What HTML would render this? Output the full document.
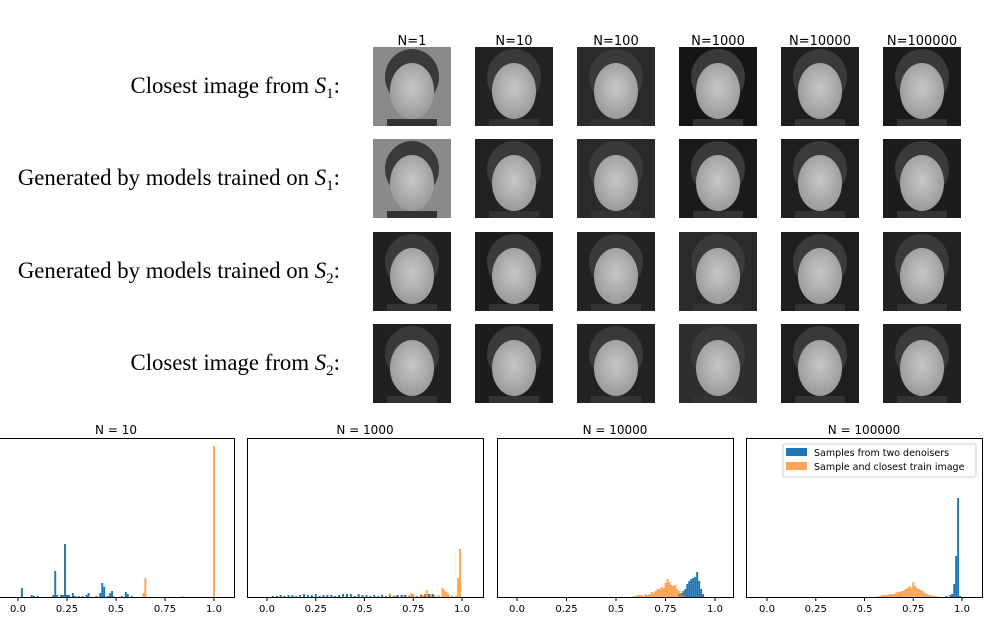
<!DOCTYPE html>
<html><head><meta charset="utf-8"><style>
body{margin:0;background:#fff;width:995px;height:637px;overflow:hidden;font-family:"DejaVu Sans","Liberation Sans",sans-serif}
svg{display:block}
.lbl{font-family:"Liberation Serif",serif;font-size:22.8px}
</style></head><body>
<svg id="fig" width="995" height="637">
<defs>
<radialGradient id="fg" cx="50%" cy="45%" r="55%"><stop offset="0" stop-color="#fff" stop-opacity="0.9"/><stop offset="1" stop-color="#fff" stop-opacity="0"/></radialGradient>
</defs>
<g id="faces"></g>
<g id="labels"></g>
<g id="hists"></g>
</svg>
<script>
const NS='http://www.w3.org/2000/svg';
function mk(tag,attrs,parent){const e=document.createElementNS(NS,tag);for(const k in attrs)e.setAttribute(k,attrs[k]);parent.appendChild(e);return e;}
const colTitles=['N=1','N=10','N=100','N=1000','N=10000','N=100000'];
const rowLabels=['Closest image from ','Generated by models trained on ','Generated by models trained on ','Closest image from '];
const rowSubs=['1','1','2','2'];
const tileBg=[['#8a8a8a','#222','#2a2a2a','#151515','#1e1e1e','#1a1a1a'],['#8a8a8a','#222','#2a2a2a','#1a1a1a','#1e1e1e','#1c1c1c'],['#202020','#1c1c1c','#222','#2a2a2a','#1e1e1e','#222'],['#202020','#1c1c1c','#222','#2e2e2e','#1e1e1e','#202020']];
const fg=document.getElementById('faces');
const rowsY=[47,139,232,324];
for(let r=0;r<4;r++)for(let c=0;c<6;c++){
 const x=373+c*102,y=rowsY[r];
 const g=mk('g',{},fg);
 
 
 mk('rect',{x:x,y:y,width:78,height:79,fill:tileBg[r][c]},g);
 mk('ellipse',{cx:x+39,cy:y+30,rx:27,ry:28,fill:'#3a3a3a'},g);
 mk('ellipse',{cx:x+39,cy:y+44,rx:22,ry:28,fill:'#9a9a9a'},g);
 mk('ellipse',{cx:x+39,cy:y+44,rx:22,ry:28,fill:'url(#fg)',opacity:0.5},g);
 mk('rect',{x:x+14,y:y+72,width:50,height:7,fill:'#333'},g);
}
const lg=document.getElementById('labels');
colTitles.forEach((t,i)=>{const e=mk('text',{x:412+i*102,y:45,'text-anchor':'middle','font-size':13},lg);e.textContent=t;

});
rowLabels.forEach((t,i)=>{const e=mk('text',{x:340,y:rowsY[i]+46,'text-anchor':'end',class:'lbl'},lg);


e.appendChild(document.createTextNode(t));
const s=mk('tspan',{'font-style':'italic'},e);s.textContent='S';
const sb=mk('tspan',{'font-size':15,dy:5},e);sb.textContent=rowSubs[i];
const co=mk('tspan',{dy:-5},e);co.textContent=':';});

const titles=['N = 10','N = 1000','N = 10000','N = 100000'];
const ticks=[0,0.25,0.5,0.75,1.0];
const tickLabels=['0.0','0.25','0.5','0.75','1.0'];
const blueX1=[0.02,0.07,0.08,0.10,0.18,0.19,0.20,0.22,0.23,0.24,0.25,0.26,0.28,0.29,0.31,0.33,0.35,0.36,0.40,0.42,0.43,0.44,0.46,0.47,0.48,0.53,0.55,0.56,0.58];
const blueY1=[9,2,1,1,2,26,2,2,2,53,2,2,4,1,1,1,2,4,1,4,14,10,1,4,6,1,5,3,1];
const orangeX1=[0.49,0.64,0.65,0.84,1.0];
const orangeY1=[1,4,19,1,151];
const blueX2=[0.03,0.05,0.07,0.09,0.11,0.13,0.15,0.17,0.19,0.21,0.23,0.25,0.27,0.29,0.31,0.33,0.35,0.37,0.39,0.41,0.43,0.45,0.47,0.49,0.51,0.53,0.55,0.57,0.59,0.61,0.63,0.65,0.67,0.69,0.71,0.73,0.75,0.77,0.79,0.81,0.83,0.85];
const blueY2=[1,1,2,1,2,2,1,2,3,2,2,3,1,2,2,2,1,2,3,3,3,1,3,2,2,1,2,1,2,1,2,1,2,2,2,1,1,1,2,3,3,3];
const orangeX2=[0.63,0.66,0.70,0.73,0.74,0.75,0.77,0.79,0.80,0.81,0.82,0.84,0.86,0.88,0.90,0.91,0.92,0.93,0.95,0.97,0.98,0.99];
const orangeY2=[4,2,2,2,4,3,1,3,2,3,7,3,2,2,9,7,5,3,2,1,19,48];
const blueX3=[0.82,0.83,0.84,0.85,0.86,0.87,0.88,0.89,0.90,0.91,0.92,0.93,0.94];
const blueY3=[3,4,6,8,13,16,18,19,20,25,16,8,3];
const orangeX3=[0.59,0.60,0.61,0.62,0.63,0.64,0.65,0.66,0.67,0.68,0.69,0.70,0.71,0.72,0.73,0.74,0.75,0.76,0.77,0.78,0.79,0.80,0.81,0.82,0.83,0.84,0.85];
const orangeY3=[1,1,2,2,2,1,3,2,3,5,4,6,8,8,10,9,14,18,15,12,11,12,8,6,4,2,1];
const blueX4=[0.92,0.94,0.95,0.96,0.97,0.98,0.99];
const blueY4=[1,2,3,13,41,99,1];
const orangeX4=[0.57,0.58,0.59,0.60,0.61,0.62,0.63,0.64,0.65,0.66,0.67,0.68,0.69,0.70,0.71,0.72,0.73,0.74,0.75,0.76,0.77,0.78,0.79,0.80,0.81,0.82,0.83,0.84,0.85,0.86,0.87];
const orangeY4=[1,1,2,2,2,2,3,3,3,4,5,5,6,6,8,9,11,9,15,11,9,8,7,6,4,3,2,2,1,1,1];
const panels=[[blueX1,blueY1,orangeX1,orangeY1],[blueX2,blueY2,orangeX2,orangeY2],[blueX3,blueY3,orangeX3,orangeY3],[blueX4,blueY4,orangeX4,orangeY4]];
const axLeft=[-2,247,497,746],axW=[236,236,236,236],x0px=[18,267,517,767],x1px=[214,462,715,962];
const axTop=438,axBot=597,ymax=159;
const hg=document.getElementById('hists');
panels.forEach((p,i)=>{
 const g=mk('g',{},hg);
 
 
 const sx=v=>x0px[i]+v*(x1px[i]-x0px[i]);
 const sy=v=>axBot-v/ymax*(axBot-axTop);
 const bw=0.01*(x1px[i]-x0px[i]);
 const drawSeries=(xs,ys,col,op,name)=>{xs.forEach((v,k)=>{const b=mk('rect',{x:sx(v)-bw/2,y:sy(ys[k]),width:bw,height:axBot-sy(ys[k]),fill:col,'fill-opacity':op},g);
  
  });};
 drawSeries(p[0],p[1],'#1f77b4',1,'blue');
 drawSeries(p[2],p[3],'#ff7f0e',0.7,'orange');
 const fr=mk('rect',{x:axLeft[i]+0.5,y:axTop+0.5,width:axW[i],height:axBot-axTop,fill:'none',stroke:'#000','stroke-width':1},g);
 
 
 const t=mk('text',{x:axLeft[i]+axW[i]/2,y:axTop-4,'text-anchor':'middle','font-size':12},g);t.textContent=titles[i];
 
 
 ticks.forEach((v,k)=>{mk('line',{x1:sx(v),x2:sx(v),y1:axBot+1,y2:axBot+4,stroke:'#000'},g);
  const tl=mk('text',{x:sx(v),y:axBot+15,'text-anchor':'middle','font-size':10},g);tl.textContent=tickLabels[k];
  
  });
});
const lgd=mk('g',{},hg);


mk('rect',{x:783,y:444,width:193,height:33,fill:'#fff',stroke:'#ccc',rx:2},lgd);
mk('rect',{x:786,y:448,width:21,height:8,fill:'#1f77b4'},lgd);
mk('rect',{x:786,y:462,width:21,height:8,fill:'#ff7f0e','fill-opacity':0.7},lgd);
const l1=mk('text',{x:814,y:456,'font-size':9.5},lgd);l1.textContent='Samples from two denoisers';


const l2=mk('text',{x:814,y:470,'font-size':9.5},lgd);l2.textContent='Sample and closest train image';


</script>
</body></html>
